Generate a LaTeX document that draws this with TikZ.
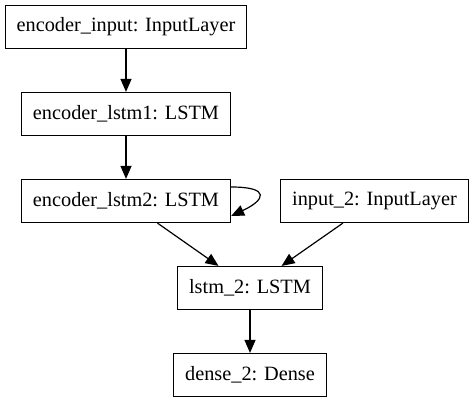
\documentclass[tikz,border=0pt]{standalone}
\usepackage{fontspec}
\setmainfont{Liberation Serif}
\usetikzlibrary{arrows.meta, positioning}

\tikzset{
  layer/.style={draw, line width=1.2pt, fill=white, minimum height=43pt,
    inner xsep=11.5pt, font=\fontsize{20.3}{24}\selectfont},
  flow/.style={line width=1.2pt, -{Triangle[length=13pt,width=11pt]}}
}

\begin{document}
\begin{tikzpicture}[x=1pt,y=1pt]
\useasboundingbox [fill=white] (0,0) rectangle (474,-402);
% layers
\node [layer] (encin)  at (126,-27)   {encoder\_input: InputLayer};
\node [layer] (encone) at (126,-114)  {encoder\_lstm1: LSTM};
\node [layer] (enctwo) at (126,-201)  {encoder\_lstm2: LSTM};
\node [layer] (inptwo) at (374.5,-201) {input\_2: InputLayer};
\node [layer] (lstm)   at (250,-288)  {lstm\_2: LSTM};
\node [layer] (dense)  at (250,-375)  {dense\_2: Dense};
% connections
\draw [flow] (encin)  -- (encone);
\draw [flow] (encone) -- (enctwo);
\draw [flow] (enctwo) -- (lstm);
\draw [flow] (inptwo) -- (lstm);
\draw [flow] (lstm)   -- (dense);
\draw [flow] ([yshift=14pt]enctwo.east) .. controls +(40,0) and +(34,16) .. ([yshift=-15pt]enctwo.east);
\end{tikzpicture}
\end{document}
